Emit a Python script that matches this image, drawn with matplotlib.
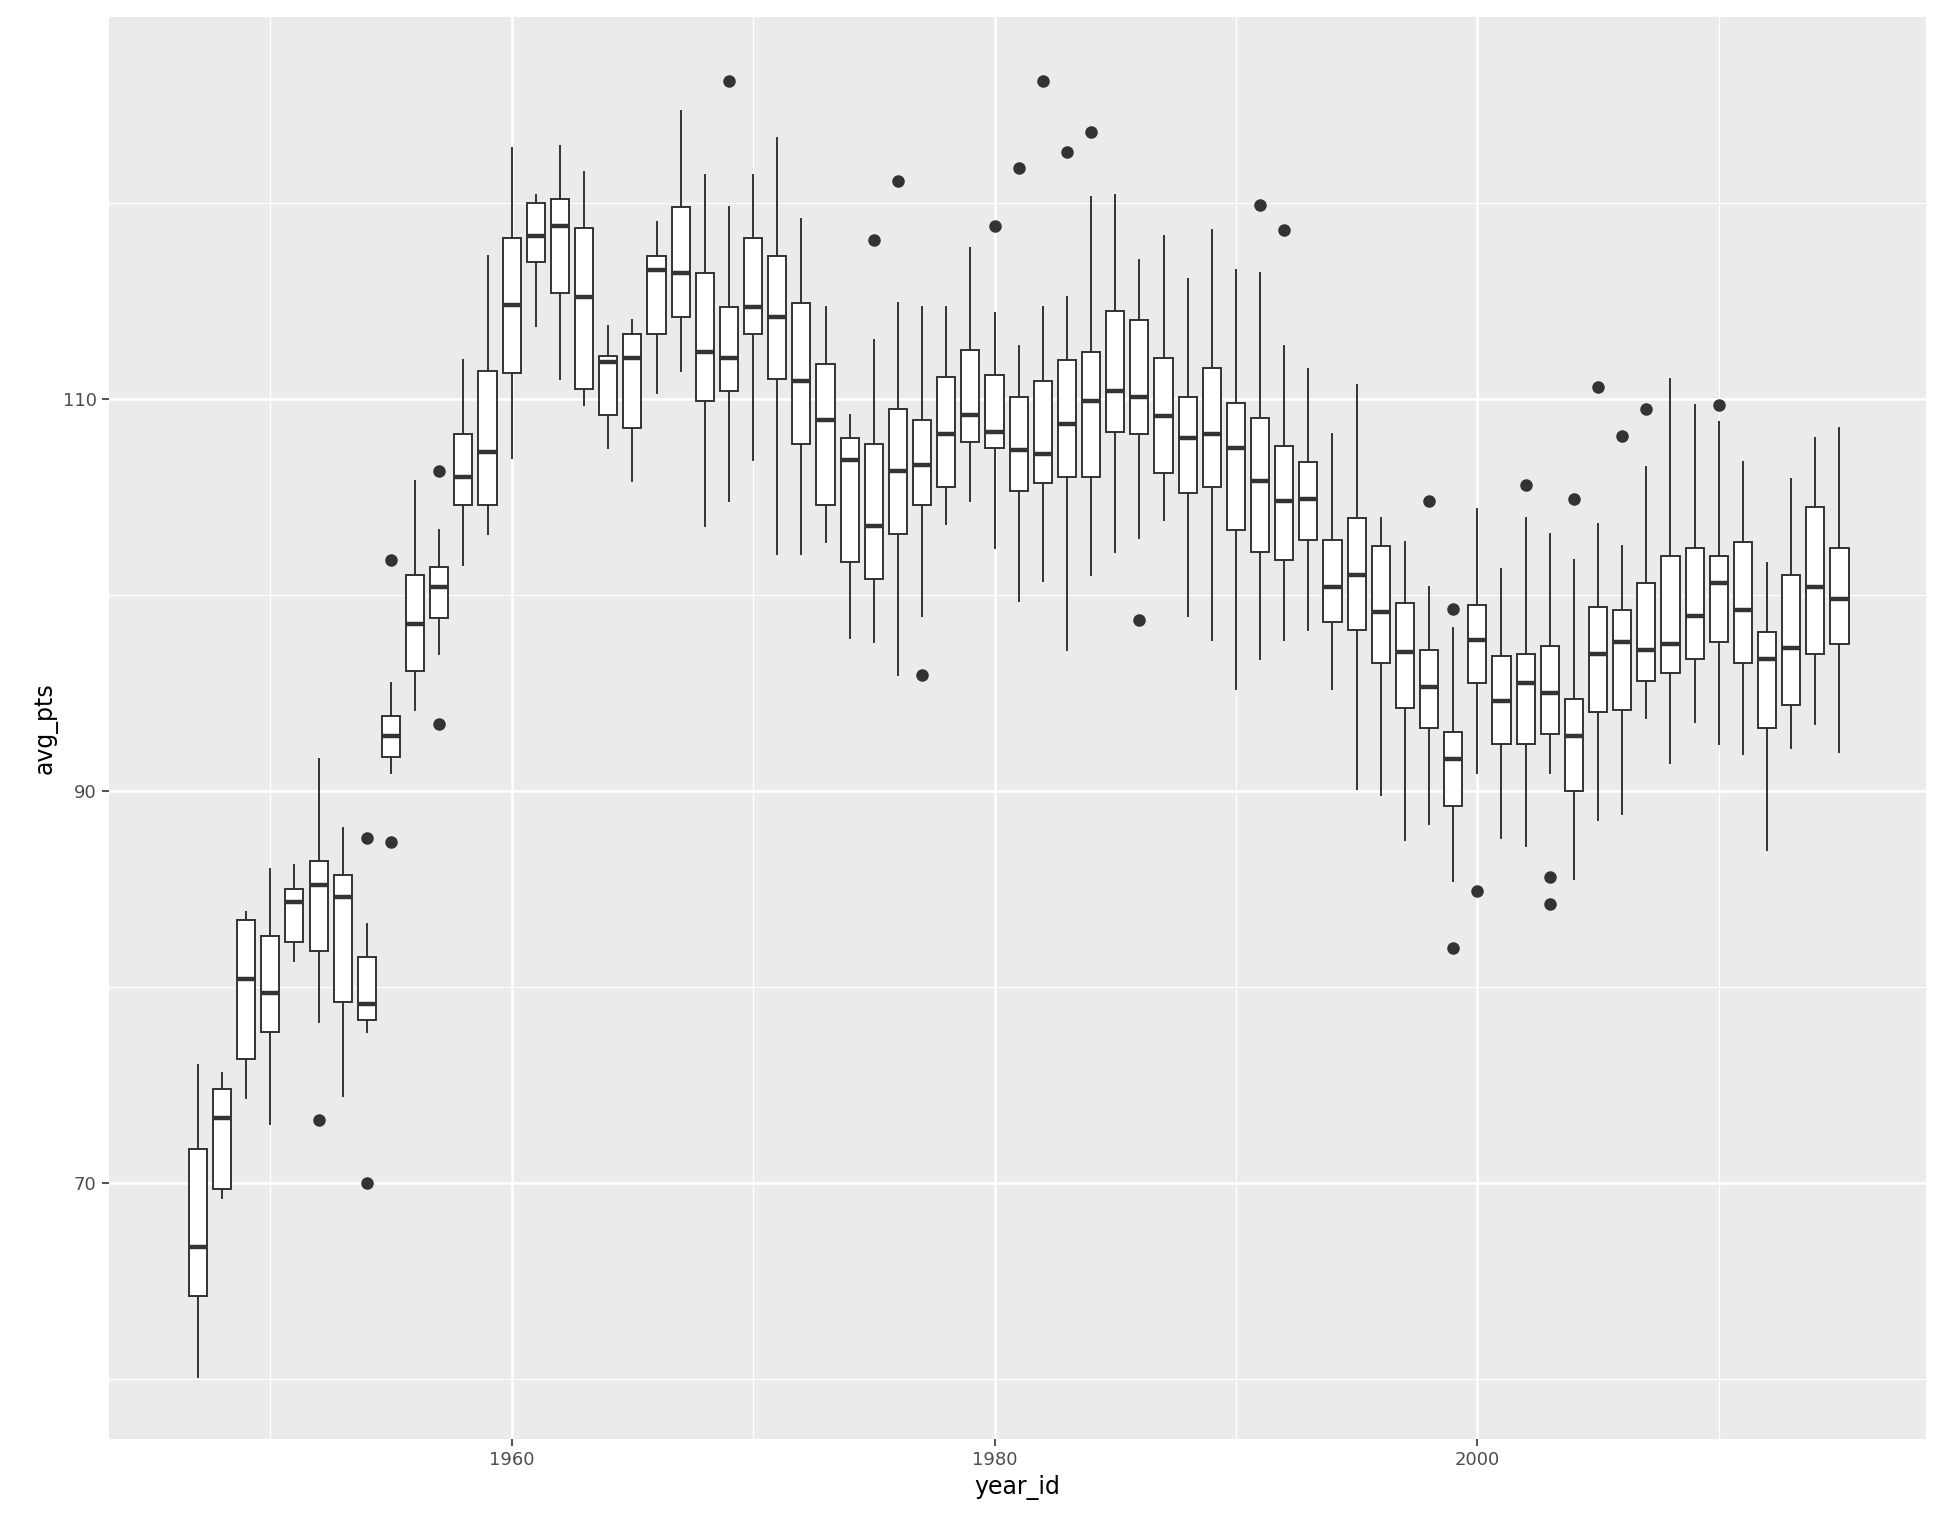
import matplotlib
matplotlib.use("Agg")
import matplotlib.pyplot as plt

years = list(range(1947, 2016))
whislo = [60.1,69.2,74.3,73.0,81.3,78.2,74.4,77.7,90.9,94.1,97.0,101.5,103.1,107.0,113.7,111.0,109.7,107.5,105.8,110.3,111.4,103.5,104.8,106.9,102.1,102.1,102.7,97.8,97.6,95.9,98.9,103.6,104.8,102.4,99.7,100.7,97.2,101.0,102.2,102.9,103.8,98.9,97.7,95.2,96.7,97.7,98.2,95.2,90.1,89.8,87.5,88.3,85.4,90.9,87.6,87.2,90.9,85.5,88.5,88.8,93.7,91.4,93.5,92.4,91.9,87.0,92.2,93.4,92.0]
q1 = [64.2,69.7,76.3,77.7,82.3,81.8,79.2,78.3,91.7,96.1,98.8,104.6,104.6,111.3,117.0,115.4,110.5,109.2,108.5,113.3,114.2,109.9,110.4,113.3,111.0,107.7,104.6,101.7,100.8,103.1,104.6,105.5,107.8,107.5,105.3,105.7,106.0,106.0,108.3,108.2,106.2,105.2,105.5,103.3,102.2,101.8,102.8,98.6,98.2,96.5,94.2,93.2,89.2,95.5,92.4,92.4,92.9,90.0,94.0,94.1,95.6,96.0,96.7,97.6,96.5,93.2,94.4,97.0,97.5]
med = [66.7,73.3,80.4,79.7,84.3,85.2,84.6,79.1,92.8,98.5,100.4,106.0,107.3,114.8,118.3,118.8,115.2,111.9,112.1,116.6,116.4,112.4,112.1,114.7,114.2,110.9,108.9,106.9,103.5,106.3,106.6,108.2,109.2,108.3,107.4,107.2,108.7,109.9,110.4,110.1,109.1,108.0,108.2,107.5,105.8,104.8,104.9,100.4,101.0,99.1,97.1,95.3,91.6,97.7,94.6,95.5,95.0,92.8,97.0,97.6,97.2,97.5,98.9,100.6,99.2,96.7,97.3,100.4,99.8]
q3 = [71.7,74.8,83.4,82.6,85.0,86.4,85.7,81.5,93.8,101.0,101.4,108.2,111.4,118.2,120.0,120.2,118.7,112.2,113.3,117.3,119.8,116.4,114.7,118.2,117.3,114.9,111.8,108.0,107.7,109.5,108.9,111.1,112.5,111.2,110.1,110.9,112.0,112.4,114.5,114.0,112.1,110.1,111.6,109.8,109.0,107.6,106.8,102.8,103.9,102.5,99.6,97.2,93.0,99.5,96.9,97.0,97.4,94.7,99.4,99.2,100.6,102.0,102.4,102.0,102.7,98.1,101.0,104.5,102.4]
whishi = [76.0,75.6,83.8,86.0,86.2,91.6,88.1,83.2,95.5,105.8,103.3,112.0,117.3,122.8,120.4,122.9,121.6,113.7,114.0,119.0,124.7,121.4,119.8,121.4,123.3,119.2,114.7,109.2,113.0,114.9,114.7,114.7,117.7,114.4,112.7,114.7,115.2,120.3,120.4,117.1,118.3,116.1,118.6,116.6,116.4,112.7,111.5,108.2,110.7,103.9,102.7,100.4,98.3,104.4,101.3,103.9,103.1,101.8,103.6,102.5,106.5,111.0,109.7,108.8,106.8,101.6,105.9,108.0,108.5]
outliers = {1952:[73.2],1954:[87.6,70.0],1955:[101.8,87.4],1957:[106.3,93.4],1969:[126.2],
            1975:[118.1],1976:[121.1],1977:[95.9],1980:[118.8],1981:[121.8],1982:[126.2],
            1983:[122.6],1984:[123.6],1986:[98.7],1991:[119.9],1992:[118.6],1998:[104.8],
            1999:[99.3,82.0],2000:[84.9],2002:[105.6],2003:[85.6,84.2],2004:[104.9],
            2005:[110.6],2006:[108.1],2007:[109.5],2010:[109.7]}

stats = []
for i, y in enumerate(years):
    stats.append(dict(whislo=whislo[i], q1=q1[i], med=med[i], q3=q3[i], whishi=whishi[i],
                      fliers=outliers.get(y, [])))

fig = plt.figure(figsize=(19.38, 15.2), dpi=100)
ax = fig.add_axes([0.056, 0.053, 0.938, 0.936])
ax.set_facecolor('#EBEBEB')
for s in ax.spines.values():
    s.set_visible(False)
for v in [60, 80, 100, 120]:
    ax.axhline(v, color='white', lw=0.9, zorder=0)
for v in [1950, 1970, 1990, 2010]:
    ax.axvline(v, color='white', lw=0.9, zorder=0)
for v in [70, 90, 110]:
    ax.axhline(v, color='white', lw=1.9, zorder=0)
for v in [1960, 1980, 2000]:
    ax.axvline(v, color='white', lw=1.9, zorder=0)

lc = '#333333'
ax.bxp(stats, positions=years, widths=0.75, patch_artist=True, showcaps=False,
       boxprops=dict(facecolor='white', edgecolor=lc, linewidth=1.4),
       whiskerprops=dict(color=lc, linewidth=1.4),
       medianprops=dict(color=lc, linewidth=3.2),
       flierprops=dict(marker='o', markerfacecolor=lc, markeredgecolor=lc, markersize=8),
       manage_ticks=False, zorder=3)

ax.set_xlim(1943.3, 2018.6)
ax.set_ylim(56.9, 129.5)
ax.set_xticks([1960, 1980, 2000])
ax.set_yticks([70, 90, 110])
ax.tick_params(colors='#4D4D4D', labelsize=13, length=5, width=1.2, color='#333333')
for t in ax.get_xticklabels() + ax.get_yticklabels():
    t.set_color('#4D4D4D')
ax.set_xlabel('year_id', fontsize=17, color='black')
ax.set_ylabel('avg_pts', fontsize=17, color='black')
fig.savefig('out.png', dpi=100)
